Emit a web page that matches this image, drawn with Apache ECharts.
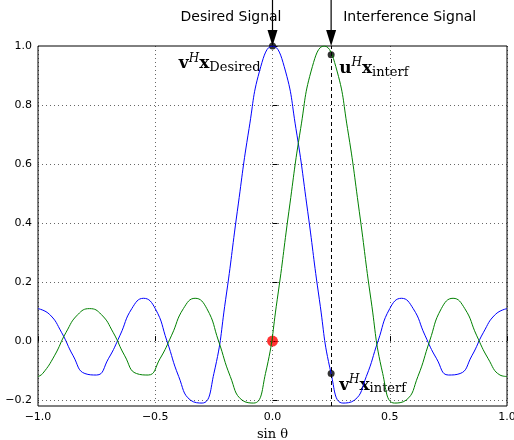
<!DOCTYPE html>
<html>
<head>
<meta charset="utf-8">
<script src="https://cdn.jsdelivr.net/npm/echarts@6/dist/echarts.min.js"></script>
<style>body{margin:0}#main{width:514px;height:440px}</style>
</head>
<body>
<div id="main"></div>
<script>
// blue: v^H x, steered to 0
var blueX = [-1,-0.95,-0.9,-0.85,-0.8,-0.75,-0.7,-0.65,-0.6,-0.55,-0.5,-0.45,-0.4,-0.35,-0.3,-0.25,-0.2,-0.15,-0.1,-0.05,0,
  0.05,0.1,0.15,0.2,0.25,0.3,0.35,0.4,0.45,0.5,0.55,0.6,0.65,0.7,0.75,0.8,0.85,0.9,0.95,1]
var blueY = [0.11,0.09,0.03,-0.05,-0.11,-0.115,-0.06,0.02,0.11,0.145,0.11,0,-0.12,-0.2,-0.21,-0.11,0.14,0.44,0.72,0.93,1,
  0.93,0.72,0.44,0.14,-0.11,-0.21,-0.2,-0.12,0,0.11,0.145,0.11,0.02,-0.06,-0.115,-0.11,-0.05,0.03,0.09,0.11]
// green: u^H x, steered near the interference
var greenX = [-1,-0.98,-0.93,-0.88,-0.83,-0.78,-0.73,-0.68,-0.63,-0.58,-0.53,-0.48,-0.43,-0.38,-0.33,-0.28,-0.23,-0.18,-0.13,-0.08,-0.03,
  0.02,0.07,0.12,0.17,0.22,0.27,0.32,0.37,0.42,0.47,0.52,0.57,0.62,0.67,0.72,0.77,0.82,0.87,0.92,0.97,1]
var greenY = [-0.12,-0.11,-0.05,0.03,0.09,0.11,0.09,0.03,-0.05,-0.11,-0.115,-0.06,0.02,0.11,0.145,0.11,0,-0.12,-0.2,-0.21,-0.11,
  0.14,0.44,0.72,0.93,1,0.93,0.72,0.44,0.14,-0.11,-0.21,-0.2,-0.12,0,0.11,0.145,0.11,0.02,-0.06,-0.115,-0.12]
var blackPts = [[0,1],[0.25,0.97],[0.25,-0.11]]
var redPts = [[0,0]]
var yTicks = [-0.2,0,0.2,0.4,0.6,0.8,1.0]
var interfX = 0.25

var zip = function(xs, ys) {
    var r = []
    for (var i = 0; i < xs.length; i++) r.push([xs[i], ys[i]])
    return r
}

var chart = echarts.init(document.getElementById('main'))
var rich = {
    b: {fontFamily: 'DejaVu Serif', fontWeight: 'bold', fontSize: 17, color: '#000'},
    sup: {fontFamily: 'DejaVu Serif', fontStyle: 'italic', fontSize: 12, color: '#000', padding: [0,0,11,0]},
    sub: {fontFamily: 'DejaVu Serif', fontSize: 13, color: '#000', padding: [7,0,0,0]}
}
var fmt = function(v) { return v.toFixed(1).replace('-', '−') }
var option = {
    animation: false,
    grid: {left: 38, right: 7, top: 46, bottom: 34, outerBoundsMode: 'none', containLabel: false,
        show: true, borderColor: '#000', borderWidth: 1},
    xAxis: {
        type: 'value', min: -1, max: 1, interval: 0.5,
        name: 'sin θ', nameLocation: 'middle', nameGap: 22,
        nameTextStyle: {fontFamily: 'DejaVu Serif', fontSize: 13, color: '#000'},
        axisLine: {show: false},
        axisTick: {inside: true, length: 5, lineStyle: {color: '#000'}},
        axisLabel: {fontFamily: 'DejaVu Sans', fontSize: 11, color: '#000', margin: 6, formatter: fmt},
        splitLine: {show: true, lineStyle: {color: '#000', type: [1, 3], width: 0.6}}
    },
    yAxis: {
        type: 'value', min: -0.22, max: 1,
        name: 'AF (in linear scale)', nameLocation: 'middle', nameGap: 27,
        nameTextStyle: {fontFamily: 'DejaVu Serif', fontSize: 15, color: '#000'},
        axisLine: {show: false},
        axisTick: {inside: true, length: 5, customValues: yTicks, lineStyle: {color: '#000'}},
        axisLabel: {fontFamily: 'DejaVu Sans', fontSize: 11, color: '#000', margin: 6, customValues: yTicks, formatter: fmt},
        splitLine: {show: false}
    },
    series: [
        {type: 'line', data: zip(blueX, blueY), smooth: 0.5, showSymbol: false,
            lineStyle: {color: '#0000ff', width: 1},
            markLine: {silent: true, symbol: 'none', label: {show: false},
                lineStyle: {color: '#000', type: [1, 3], width: 0.6},
                data: yTicks.slice(0, 6).map(function(v) { return {yAxis: v} })}},
        {type: 'line', data: zip(greenX, greenY), smooth: 0.5, showSymbol: false,
            lineStyle: {color: '#008000', width: 1},
            markLine: {silent: true, symbol: 'none', label: {show: false},
                lineStyle: {color: '#000', type: [4, 3], width: 1},
                data: [{xAxis: interfX}]}},
        {type: 'scatter', data: blackPts, symbolSize: 7, itemStyle: {color: '#000'}},
        {type: 'scatter', data: redPts, symbolSize: 11, itemStyle: {color: '#ff0000'}}
    ]
}
chart.setOption(option)

// arrows and labels placed through the axes
var px = function(p) { return chart.convertToPixel({gridIndex: 0}, p) }
var top0 = px([0, 1]), topI = px([interfX, 1])
var gfx = []
var arrow = function(x, yEnd) {
    gfx.push({type: 'line', shape: {x1: x, y1: 0, x2: x, y2: yEnd - 10}, style: {stroke: '#000', lineWidth: 1.2}})
    gfx.push({type: 'polygon', shape: {points: [[x - 5, yEnd - 16], [x + 5, yEnd - 16], [x, yEnd]]}, style: {fill: '#000'}})
}
arrow(top0[0], top0[1])
arrow(topI[0], topI[1])
gfx.push({type: 'text', x: top0[0] + 9, y: 17, style: {text: 'Desired Signal', align: 'right', verticalAlign: 'middle',
    font: '14px "DejaVu Sans"', fill: '#000'}})
gfx.push({type: 'text', x: topI[0] + 12, y: 17, style: {text: 'Interference Signal', align: 'left', verticalAlign: 'middle',
    font: '14px "DejaVu Sans"', fill: '#000'}})
var p1 = px(blackPts[0]), p2 = px(blackPts[1]), p3 = px(blackPts[2])
gfx.push({type: 'text', x: p1[0] - 12, y: p1[1] + 18, style: {text: '{b|v}{sup|H}{b|x}{sub|Desired}', rich: rich, align: 'right', verticalAlign: 'middle'}})
gfx.push({type: 'text', x: p2[0] + 8, y: p2[1] + 14, style: {text: '{b|u}{sup|H}{b|x}{sub|interf}', rich: rich, align: 'left', verticalAlign: 'middle'}})
gfx.push({type: 'text', x: p3[0] + 8, y: p3[1] + 12, style: {text: '{b|v}{sup|H}{b|x}{sub|interf}', rich: rich, align: 'left', verticalAlign: 'middle'}})
chart.setOption({graphic: gfx})
</script>
</body>
</html>
